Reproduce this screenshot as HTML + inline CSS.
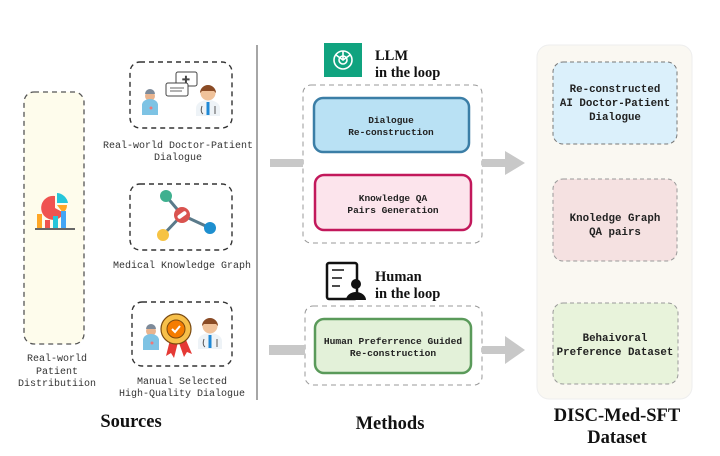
<!DOCTYPE html>
<html><head><meta charset="utf-8"><style>
html,body{margin:0;padding:0;background:#fff}
svg{display:block}
.m{font-family:"Liberation Mono",monospace;font-size:10px;fill:#333}
.mb{font-family:"Liberation Mono",monospace;font-weight:bold;fill:#222}
.s{font-family:"Liberation Serif",serif;font-weight:bold;fill:#111}
</style></head><body>
<svg width="720" height="456" viewBox="0 0 720 456" xmlns="http://www.w3.org/2000/svg">
<defs>
<g id="pat"><circle cx="0" cy="-9" r="5" fill="#e9b48e"/><path d="M-5,-11 a5,5 0 0 1 10,0 z" fill="#7d8a99"/><path d="M-8,10 v-10 a8,6 0 0 1 16,0 v10z" fill="#7ec3e4"/><circle cx="1" cy="3" r="1.5" fill="#e77"/></g>
<g id="doc"><path d="M-12,14 v-8 a12,8 0 0 1 24,0 v8z" fill="#eef3f7"/><rect x="-1.5" y="0" width="3" height="13" fill="#1e88d6"/><circle cx="0" cy="-9" r="7.5" fill="#f0c29a"/><path d="M-8,-9 a8,8 0 0 1 16,0 l-2,-2 h-12z" fill="#8a4b25"/><path d="M-6,4 q-2,6 1,8 M7,4 v8" stroke="#555" fill="none" stroke-width="1"/></g>
</defs>
<!-- Sources -->
<rect x="24" y="92" width="60" height="252" rx="10" fill="#fefcec" stroke="#555" stroke-dasharray="5,4" stroke-width="1.3"/>
<g>
<path d="M55,196 A12,12 0 1 0 64,213 L55,208z" fill="#ef5350"/>
<path d="M57,193 A12,12 0 0 1 68,203 L57,203z" fill="#26c6da"/>
<path d="M57,205 L67,205 A10,10 0 0 1 63,213z" fill="#ffa726"/>
<rect x="37" y="214" width="5" height="14" fill="#ffa726"/><rect x="45" y="220" width="5" height="8" fill="#ef5350"/><rect x="53" y="216" width="5" height="12" fill="#26c6da"/><rect x="61" y="211" width="5" height="17" fill="#42a5f5"/>
<rect x="35" y="228" width="40" height="2" fill="#666"/>
</g>
<text class="m" text-anchor="middle"><tspan x="57" y="361">Real-world</tspan><tspan x="57" y="374">Patient</tspan><tspan x="57" y="386">Distributiion</tspan></text>

<rect x="130" y="62" width="102" height="66" rx="10" fill="none" stroke="#333" stroke-dasharray="5,4" stroke-width="1.4"/>
<use href="#pat" x="150" y="105"/><use href="#doc" x="208" y="102"/>
<rect x="176" y="72" width="21" height="14" rx="2" fill="#fff" stroke="#444"/><text x="186" y="83" font-size="10" text-anchor="middle" fill="#444" font-family="DejaVu Sans">✚</text>
<rect x="166" y="83" width="22" height="13" rx="2" fill="#fff" stroke="#444"/><path d="M170,88h14M170,91h12" stroke="#666"/>
<text class="m" text-anchor="middle"><tspan x="178" y="148">Real-world Doctor-Patient</tspan><tspan x="178" y="160">Dialogue</tspan></text>

<rect x="130" y="184" width="102" height="66" rx="10" fill="none" stroke="#333" stroke-dasharray="5,4" stroke-width="1.4"/>
<path d="M166,196 L182,215 L210,228 M182,215 L163,235" stroke="#5a7a8a" stroke-width="3" fill="none"/>
<circle cx="166" cy="196" r="6" fill="#3fb08f"/><circle cx="210" cy="228" r="6" fill="#1e8fcf"/><circle cx="163" cy="235" r="6" fill="#f6c344"/><circle cx="182" cy="215" r="8" fill="#d9534f"/><rect x="177" y="213" width="10" height="4" rx="2" fill="#fff" transform="rotate(-35 182 215)"/>
<text class="m" text-anchor="middle" x="182" y="268">Medical Knowledge Graph</text>

<rect x="132" y="302" width="100" height="64" rx="10" fill="none" stroke="#333" stroke-dasharray="5,4" stroke-width="1.4"/>
<use href="#pat" x="151" y="340"/><use href="#doc" x="210" y="335"/>
<path d="M170,340 l-4,16 5,-3 3,5 4,-16z M186,340 l6,14 -5,-2 -3,5 -5,-14z" fill="#e53935"/>
<circle cx="176" cy="329" r="15" fill="#f7c04a" stroke="#7a4a10" stroke-width="1.2"/>
<circle cx="176" cy="329" r="9" fill="#f57c00" stroke="#7a4a10"/>
<path d="M172,329 l3,3 5,-6" stroke="#fff" stroke-width="2" fill="none"/>
<text class="m" text-anchor="middle"><tspan x="182" y="384">Manual Selected</tspan><tspan x="182" y="396">High-Quality Dialogue</tspan></text>

<line x1="257" y1="45" x2="257" y2="400" stroke="#777" stroke-width="1.3"/>
<text class="s" x="131" y="427" font-size="18.5" text-anchor="middle">Sources</text>

<!-- Methods -->
<rect x="324" y="43" width="38" height="34" fill="#10a37f"/>
<g stroke="#fff" stroke-width="1.6" fill="none"><circle cx="343" cy="60" r="9"/><circle cx="343" cy="60" r="4"/><path d="M336,55 l7,5 7,-5 M343,51 v9"/></g>
<text class="s" font-size="14.5"><tspan x="375" y="60">LLM</tspan><tspan x="375" y="77">in the loop</tspan></text>
<rect x="303" y="85" width="179" height="158" rx="8" fill="none" stroke="#999" stroke-dasharray="5,4"/>
<rect x="314" y="98" width="155" height="54" rx="9" fill="#b9e1f4" stroke="#3b7ea6" stroke-width="2.5"/>
<text class="mb" text-anchor="middle" font-size="9.5"><tspan x="391" y="123">Dialogue</tspan><tspan x="391" y="135">Re-construction</tspan></text>
<rect x="315" y="175" width="156" height="55" rx="9" fill="#fce4ec" stroke="#c2185b" stroke-width="2.5"/>
<text class="mb" text-anchor="middle" font-size="9.5"><tspan x="393" y="201">Knowledge QA</tspan><tspan x="393" y="213">Pairs Generation</tspan></text>

<g fill="#333"><rect x="327" y="263" width="30" height="36" rx="2" fill="none" stroke="#111" stroke-width="2.5"/><circle cx="356" cy="284" r="5" fill="#111"/><path d="M346,300 a10,8 0 0 1 20,0z" fill="#111"/><path d="M332,270h12M332,278h10M332,286h8" stroke="#111" stroke-width="1.6"/></g>
<text class="s" font-size="14.5"><tspan x="375" y="281">Human</tspan><tspan x="375" y="298">in the loop</tspan></text>
<rect x="305" y="306" width="177" height="79" rx="8" fill="none" stroke="#999" stroke-dasharray="5,4"/>
<rect x="315" y="319" width="156" height="54" rx="9" fill="#e3f1d9" stroke="#5a9a5a" stroke-width="2.5"/>
<text class="mb" text-anchor="middle" font-size="9.6"><tspan x="393" y="344">Human Preferrence Guided</tspan><tspan x="393" y="356">Re-construction</tspan></text>

<g fill="#c8c8c8">
<rect x="270" y="159" width="33" height="8"/>
<path d="M482,159 h23 v-8 l20,12 -20,12 v-8 h-23z"/>
<rect x="269" y="345" width="36" height="10"/>
<path d="M482,346 h23 v-10 l20,14 -20,14 v-10 h-23z"/>
</g>
<text class="s" x="390" y="429" font-size="18.5" text-anchor="middle">Methods</text>

<!-- Dataset -->
<rect x="537" y="45" width="155" height="354" rx="12" fill="#faf8f2" stroke="#eee"/>
<rect x="553" y="62" width="124" height="82" rx="10" fill="#dbf0fb" stroke="#777" stroke-dasharray="4,3"/>
<text class="mb" text-anchor="middle" font-size="10.8"><tspan x="615" y="92">Re-constructed</tspan><tspan x="615" y="106">AI Doctor-Patient</tspan><tspan x="615" y="120">Dialogue</tspan></text>
<rect x="553" y="179" width="124" height="82" rx="10" fill="#f5e1e1" stroke="#999" stroke-dasharray="4,3"/>
<text class="mb" text-anchor="middle" font-size="10.8"><tspan x="615" y="221">Knoledge Graph</tspan><tspan x="615" y="235">QA pairs</tspan></text>
<rect x="553" y="303" width="125" height="81" rx="10" fill="#e8f3db" stroke="#999" stroke-dasharray="4,3"/>
<text class="mb" text-anchor="middle" font-size="10.8"><tspan x="615" y="341">Behaivoral</tspan><tspan x="615" y="355">Preference Dataset</tspan></text>
<text class="s" font-size="18.5" text-anchor="middle"><tspan x="617" y="421">DISC-Med-SFT</tspan><tspan x="617" y="443">Dataset</tspan></text>
</svg>
</body></html>
